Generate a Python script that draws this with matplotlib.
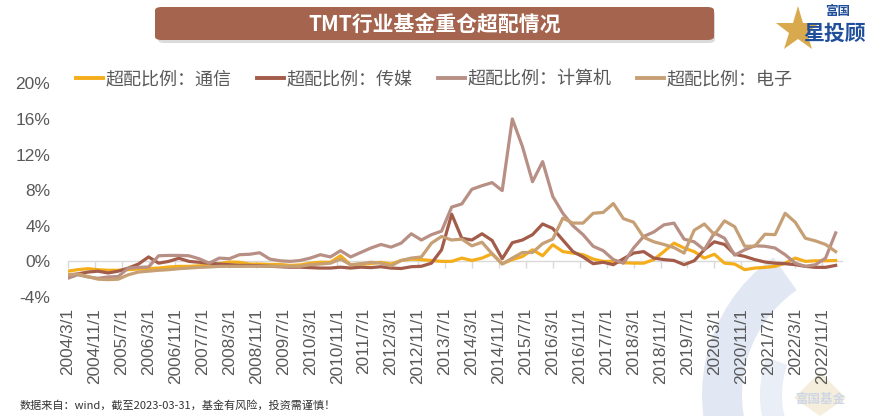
import matplotlib
matplotlib.use("Agg")
import matplotlib.pyplot as plt
from matplotlib.patches import FancyBboxPatch, Wedge, Polygon
import numpy as np

# ---------------- data ----------------
series_names = ["超配比例：通信", "超配比例：传媒", "超配比例：计算机", "超配比例：电子"]
series_colors = ["#F5AE1B", "#A35C49", "#B88F84", "#C69F75"]

# quarterly observations 2004-03 ... 2023-03 (month offsets from 2004-03)
first_year, first_month = 2004, 3
n_quarters = 77

tongxin = [-1.1, -0.93, -0.82, -0.93, -1.0, -1.0, -0.93, -0.86, -0.8, -0.75, -0.63, -0.56, -0.56, -0.5, -0.45, -0.26, -0.07, -0.1, -0.3,
           -0.3, -0.35, -0.35, -0.45, -0.4, -0.2, -0.1, -0.1, 0.63, -0.4, -0.3, -0.25, -0.1, -0.3, 0.1, 0.25, 0.2, 0.1, 0.0,
           0.0, 0.37, 0.1, 0.37, 0.86, -0.26, 0.2, 0.55, 1.3, 0.63, 1.87, 1.1, 0.93, 0.75, 0.26, 0.0, 0.0, -0.15,
           -0.2, -0.2, 0.2, 1.1, 2.05, 1.5, 1.1, 0.37, 0.8, -0.2, -0.3, -0.93, -0.75, -0.67, -0.56, -0.2, 0.37, 0.0, 0.07, 0.07, 0.1]
chuanmei = [-1.7, -1.4, -1.2, -1.1, -1.3, -1.1, -0.75, -0.3, 0.5, -0.2, 0.0, 0.35, 0.0, -0.1, -0.2, -0.3, -0.37, -0.45, -0.45,
            -0.5, -0.55, -0.6, -0.65, -0.65, -0.7, -0.75, -0.75, -0.65, -0.75, -0.65, -0.7, -0.6, -0.75, -0.8, -0.6, -0.55, -0.2, 1.3,
            5.3, 2.6, 2.4, 3.1, 2.35, 0.3, 2.1, 2.4, 3.0, 4.2, 3.7, 2.4, 1.1, 0.5, -0.26, -0.1, -0.37, 0.3,
            0.93, 1.1, 0.37, 0.2, 0.1, -0.37, 0.07, 1.3, 2.2, 1.9, 0.8, 0.56, 0.2, -0.07, -0.2, -0.26, -0.37, -0.56, -0.67, -0.67, -0.45]
jisuanji = [-1.9, -1.5, -1.75, -1.9, -1.75, -1.7, -0.75, -0.67, -0.63, 0.63, 0.67, 0.67, 0.63, 0.3, -0.2, 0.37, 0.3, 0.75, 0.8,
            0.97, 0.26, 0.07, 0.0, 0.1, 0.37, 0.75, 0.5, 1.2, 0.5, 1.0, 1.5, 1.9, 1.6, 2.05, 3.1, 2.4, 3.0, 3.4,
            6.1, 6.45, 8.1, 8.5, 8.85, 7.95, 16.0, 12.9, 8.95, 11.2, 7.3, 5.4, 4.0, 3.0, 1.7, 1.2, 0.2, -0.2,
            1.5, 2.8, 3.3, 4.1, 4.3, 2.5, 2.2, 1.3, 3.2, 2.6, 0.7, 1.3, 1.75, 1.7, 1.5, 0.75, -0.2, -0.56, -0.37, 0.37, 3.2]
dianzi = [-1.5, -1.4, -1.7, -2.0, -2.05, -2.0, -1.5, -1.2, -1.1, -1.0, -0.93, -0.82, -0.75, -0.67, -0.63, -0.56, -0.56, -0.56, -0.55,
          -0.55, -0.55, -0.55, -0.55, -0.55, -0.37, -0.3, -0.2, 0.25, -0.37, -0.26, -0.1, -0.2, -0.5, 0.1, 0.37, 0.5, 2.05, 2.8,
          2.4, 2.5, 1.75, 2.15, 0.86, -0.3, 0.37, 1.0, 1.0, 2.0, 2.5, 4.85, 4.3, 4.3, 5.4, 5.5, 6.5, 4.8,
          4.4, 2.7, 2.2, 1.9, 1.55, 0.93, 3.5, 4.2, 3.0, 4.55, 3.9, 1.7, 1.7, 3.05, 3.0, 5.4, 4.4, 2.6, 2.3, 1.9, 1.1]

tick_labels = ["2004/3/1", "2004/11/1", "2005/7/1", "2006/3/1", "2006/11/1", "2007/7/1", "2008/3/1",
               "2008/11/1", "2009/7/1", "2010/3/1", "2010/11/1", "2011/7/1", "2012/3/1", "2012/11/1",
               "2013/7/1", "2014/3/1", "2014/11/1", "2015/7/1", "2016/3/1", "2016/11/1", "2017/7/1",
               "2018/3/1", "2018/11/1", "2019/7/1", "2020/3/1", "2020/11/1", "2021/7/1", "2022/3/1",
               "2022/11/1"]
y_ticks = [-4, 0, 4, 8, 12, 16, 20]

title_text = "TMT行业基金重仓超配情况"
footnote = "数据来自：wind，截至2023-03-31，基金有风险，投资需谨慎！"

# month offsets
def month_offset(lbl):
    y, m, _ = lbl.split("/")
    return (int(y) - first_year) * 12 + int(m) - first_month

data_months = [3 * i for i in range(n_quarters)]
tick_months = [month_offset(t) for t in tick_labels]

# ---------------- figure ----------------
plt.rcParams['font.family'] = ['Noto Sans CJK SC', 'DejaVu Sans']
W, H = 873, 416
fig = plt.figure(figsize=(W / 100, H / 100), dpi=100)
fig.patch.set_facecolor("white")

def fx(px):
    return px / W

def fy(py):
    return 1 - py / H

# watermark / logo layer (background)
wm = fig.add_axes([0, 0, 1, 1], zorder=0)
wm.set_xlim(0, W)
wm.set_ylim(H, 0)
wm.axis("off")
wm.add_patch(Wedge((870, 395), 168, 150, 235, width=40, facecolor="#E1E8F3", edgecolor="none"))
wm.add_patch(Wedge((870, 395), 110, 95, 200, width=22, facecolor="#E9EEF7", edgecolor="none"))
wm.add_patch(Polygon([[820, 372], [846, 398], [820, 416], [794, 398]], closed=True,
                     facecolor="#F5EEDC", edgecolor="none"))
wm.text(820, 399, "富国基金", fontsize=9, color="#CFD7E4", ha="center", va="center", fontweight="bold")
# logo star
wm.plot([798], [30], marker="*", markersize=34, color="#D9A94E", markeredgewidth=0)

# main axes
left_px, right_px = 67.7, 842.4
top_px, bot_px = 83.3, 297.0
ax = fig.add_axes([fx(left_px), fy(bot_px), fx(right_px) - fx(left_px), fy(top_px) - fy(bot_px)], zorder=2)
ax.set_facecolor("none")

series = [tongxin, chuanmei, jisuanji, dianzi]
for vals, name, col in zip(series, series_names, series_colors):
    ax.plot(data_months, vals, color=col, lw=2.3, label=name, solid_joinstyle="round")

ax.set_xlim(0, 230)
ax.set_ylim(-4, 20)
for s in ["top", "right", "left"]:
    ax.spines[s].set_visible(False)
ax.spines["bottom"].set_position(("data", 0))
ax.spines["bottom"].set_color("#D9D9D9")
ax.spines["bottom"].set_linewidth(1.0)
ax.spines["bottom"].set_zorder(0.5)
ax.set_xticks(tick_months)
ax.tick_params(axis="x", direction="out", length=5, color="#D9D9D9", width=1.0, labelbottom=False)
ax.set_yticks(y_ticks)
ax.set_yticklabels([f"{v}%" for v in y_ticks], family=["Liberation Sans", "DejaVu Sans"])
ax.tick_params(axis="y", length=0, pad=12.5, labelsize=12.5, labelcolor="#595959")

sec = ax.secondary_xaxis(0)
sec.set_xticks(tick_months)
sec.set_xticklabels(tick_labels, rotation=90, family=["Liberation Sans", "DejaVu Sans"])
sec.tick_params(length=0, pad=8, labelsize=12.4, labelcolor="#595959")
sec.spines["bottom"].set_visible(False)

# legend
leg = fig.legend(loc="center left", bbox_to_anchor=(fx(76), fy(79)), ncol=4, frameon=False,
                 borderpad=0, borderaxespad=0, handlelength=1.5, handletextpad=0.15,
                 columnspacing=1.4, prop={"size": 13})
for t in leg.get_texts():
    t.set_color("#595959")
for h in leg.get_lines():
    h.set_linewidth(2.8)

# title box
shadow = FancyBboxPatch((fx(158), fy(43)), fx(715) - fx(158), fy(10) - fy(43),
                        boxstyle="round,pad=0,rounding_size=0.008", transform=fig.transFigure,
                        facecolor="#999999", edgecolor="none", alpha=0.35, zorder=3)
fig.patches.append(shadow)
box = FancyBboxPatch((fx(155), fy(40)), fx(714) - fx(155), fy(7) - fy(40),
                     boxstyle="round,pad=0,rounding_size=0.008", transform=fig.transFigure,
                     facecolor="#A4644E", edgecolor="none", zorder=4)
fig.patches.append(box)
fig.text(fx(435), fy(24), title_text, color="white", fontsize=15, fontweight="bold",
         ha="center", va="center", zorder=5)

# logo text
fig.text(fx(838), fy(11), "富国", color="#1F4E9A", fontsize=9, fontweight="bold",
         ha="center", va="center", zorder=6)
fig.text(fx(835), fy(33), "星投顾", color="#1F4E9A", fontsize=15, fontweight="bold",
         ha="center", va="center", style="italic", zorder=6)

# footnote
fig.text(fx(20), fy(405), footnote, color="#333333", fontsize=8, ha="left", va="center")

fig.savefig("out.png", dpi=100)
